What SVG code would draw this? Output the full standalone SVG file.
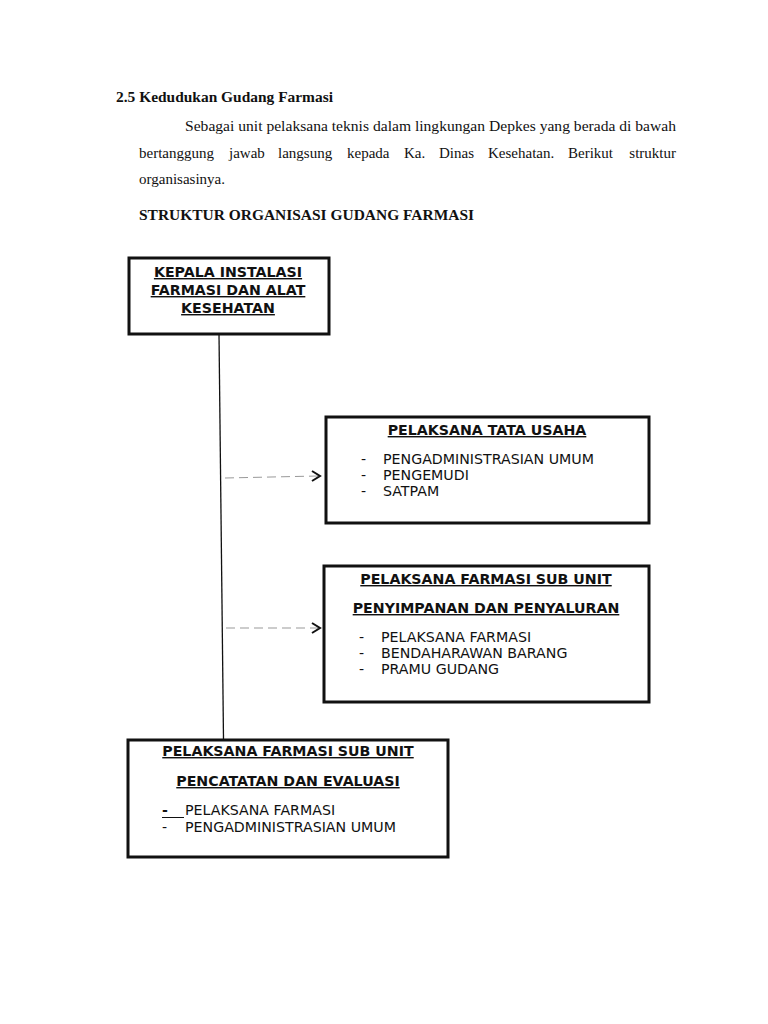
<svg xmlns="http://www.w3.org/2000/svg" width="768" height="1024" viewBox="0 0 768 1024">
<style>
.serif{font-family:"Liberation Serif","Times New Roman",serif;font-size:15px;fill:#111}
.sb{font-weight:bold}
.box{fill:#fff;stroke:#111;stroke-width:3}
.t{font-family:"DejaVu Sans",sans-serif;font-size:14.2px;fill:#111}
.tb{font-weight:bold;text-decoration:underline}
.conn{stroke:#111;stroke-width:1.3;fill:none}
.dash{stroke:#999;stroke-width:1;stroke-dasharray:9 5;fill:none}
.head{stroke:#111;stroke-width:2;fill:none}
</style>
<rect width="768" height="1024" fill="#fff"/>
<text class="serif sb" x="116" y="102" textLength="217" lengthAdjust="spacingAndGlyphs">2.5 Kedudukan Gudang Farmasi</text>
<text class="serif" x="185" y="131" textLength="491" lengthAdjust="spacingAndGlyphs">Sebagai unit pelaksana teknis dalam lingkungan Depkes yang berada di bawah</text>
<g class="serif">
<text x="139" y="158">bertanggung</text>
<text x="229" y="158">jawab</text>
<text x="278" y="158">langsung</text>
<text x="347" y="158">kepada</text>
<text x="404" y="158">Ka.</text>
<text x="439" y="158">Dinas</text>
<text x="488" y="158">Kesehatan.</text>
<text x="568" y="158">Berikut</text>
<text x="676" y="158" text-anchor="end">struktur</text>
</g>
<text class="serif" x="139" y="184">organisasinya.</text>
<text class="serif sb" x="139" y="220" textLength="335" lengthAdjust="spacingAndGlyphs">STRUKTUR ORGANISASI GUDANG FARMASI</text>

<g id="connectors">
<line class="conn" x1="219" y1="334" x2="223.5" y2="739"/>
<line class="dash" x1="225" y1="478" x2="318" y2="476"/>
<polyline class="head" points="312,471 320,476 312,481"/>
<line class="dash" x1="226" y1="628" x2="318" y2="628"/>
<polyline class="head" points="312,623 320,628 312,633"/>
</g>

<g id="node-kepala">
<rect class="box" x="129" y="258" width="200" height="76"/>
<text class="t tb" x="228" y="277" text-anchor="middle">KEPALA INSTALASI</text>
<text class="t tb" x="228" y="295" text-anchor="middle">FARMASI DAN ALAT</text>
<text class="t tb" x="228" y="313" text-anchor="middle">KESEHATAN</text>
</g>

<g id="node-tata-usaha">
<rect class="box" x="326" y="417" width="323" height="106"/>
<text class="t tb" x="487" y="435" text-anchor="middle">PELAKSANA TATA USAHA</text>
<text class="t" x="361" y="464">-</text><text class="t" x="383" y="464">PENGADMINISTRASIAN UMUM</text>
<text class="t" x="361" y="480">-</text><text class="t" x="383" y="480">PENGEMUDI</text>
<text class="t" x="361" y="496">-</text><text class="t" x="383" y="496">SATPAM</text>
</g>

<g id="node-penyimpanan">
<rect class="box" x="324" y="566" width="325" height="136"/>
<text class="t tb" x="486" y="584" text-anchor="middle">PELAKSANA FARMASI SUB UNIT </text>
<text class="t tb" x="486" y="613" text-anchor="middle">PENYIMPANAN DAN PENYALURAN</text>
<text class="t" x="359" y="642">-</text><text class="t" x="381" y="642">PELAKSANA FARMASI</text>
<text class="t" x="359" y="658">-</text><text class="t" x="381" y="658">BENDAHARAWAN BARANG</text>
<text class="t" x="359" y="674">-</text><text class="t" x="381" y="674">PRAMU GUDANG</text>
</g>

<g id="node-pencatatan">
<rect class="box" x="128" y="740" width="320" height="117"/>
<text class="t tb" x="288" y="756" text-anchor="middle">PELAKSANA FARMASI SUB UNIT</text>
<text class="t tb" x="288" y="786" text-anchor="middle">PENCATATAN DAN EVALUASI</text>
<text class="t" x="162" y="815" style="font-weight:bold">-</text>
<line x1="162" y1="817.5" x2="184" y2="817.5" stroke="#111" stroke-width="1"/>
<text class="t" x="185" y="815">PELAKSANA FARMASI</text>
<text class="t" x="162" y="832">-</text><text class="t" x="185" y="832">PENGADMINISTRASIAN UMUM</text>
</g>
</svg>
